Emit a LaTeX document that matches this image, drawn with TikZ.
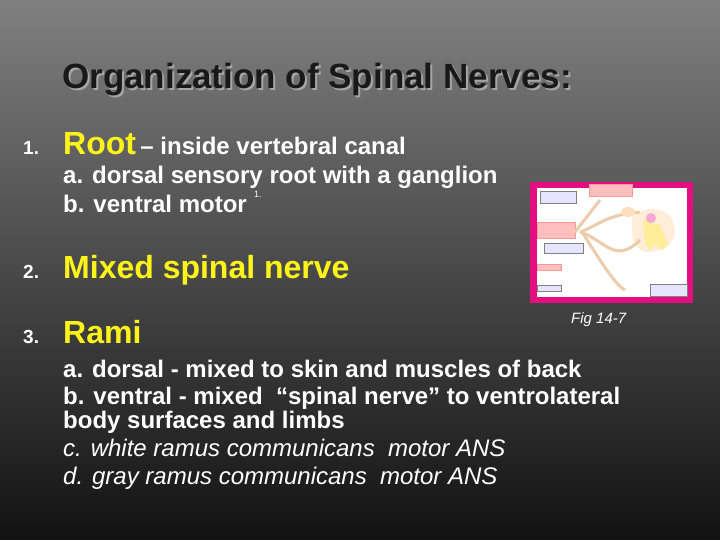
\documentclass[tikz,border=0pt]{standalone}
\usepackage{fontspec}
\setmainfont{Liberation Sans}
\begin{document}
\begin{tikzpicture}[x=1pt,y=-1pt,
  txt/.style={anchor=base west,inner sep=0pt,text=white,font=\bfseries\fontsize{24}{28}\selectfont},
  head/.style={anchor=base west,inner sep=0pt,text=yellow!90!white,font=\bfseries\fontsize{32}{36}\selectfont},
  num/.style={anchor=base west,inner sep=0pt,text=white,font=\bfseries\fontsize{19}{22}\selectfont},
  itl/.style={anchor=base west,inner sep=0pt,text=white,font=\itshape\fontsize{24}{28}\selectfont},
  pinkbox/.style={fill=red!25,draw=red!40,line width=0.3pt},
  lavbox/.style={fill=blue!10,draw=gray,line width=0.3pt},
  nerve/.style={draw=orange!30!brown!40,line width=3pt}]
\useasboundingbox (0,0) rectangle (720,540);
\shade[top color=black!50, bottom color=black!93] (0,0) rectangle (720,540);
% title
\node[anchor=base west,inner sep=0pt,text=gray!70,font=\bfseries\fontsize{35}{40}\selectfont] (tshadow) at (64,91) {Organization of Spinal Nerves:};
\node[anchor=base west,inner sep=0pt,text=black!90,font=\bfseries\fontsize{35}{40}\selectfont] (title) at (62,89) {Organization of Spinal Nerves:};
% item 1
\node[num] (n1) at (23,155) {1.};
\node[head] (root) at (63,155) {Root};
\node[txt,anchor=base west] (rootd) at (root.base east) {\,– inside vertebral canal};
\node[txt] (ra) at (63,184) {a. dorsal sensory root with a ganglion};
\node[txt] (rb) at (63,212) {b. ventral motor};
\node[anchor=base west,inner sep=0pt,text=white,font=\fontsize{9}{10}\selectfont] (one) at (254,197) {1.};
% item 2
\node[num] (n2) at (23,278) {2.};
\node[head] (mixed) at (63,278) {Mixed spinal nerve};
% item 3
\node[num] (n3) at (23,343) {3.};
\node[head] (rami) at (63,343) {Rami};
\node[txt] (r3a) at (63,377) {a. dorsal - mixed to skin and muscles of back};
\node[txt] (r3b) at (63,404) {b. ventral - mixed\ \ “spinal nerve” to ventrolateral};
\node[txt] (r3b2) at (63,428) {body surfaces and limbs};
\node[itl] (r3c) at (63,456) {c. white ramus communicans\ \ motor ANS};
\node[itl] (r3d) at (63,484) {d. gray ramus communicans\ \ motor ANS};
% figure
\fill[magenta!80!purple] (530,182) rectangle (693,303);
\fill[white] (537,188) rectangle (687,297);
\node[itl,font=\itshape\fontsize{15}{18}\selectfont] (fig) at (571,323) {Fig 14-7};
% figure sketch
\draw[lavbox] (540,191) rectangle (576,203);
\draw[pinkbox] (589,184) rectangle (632,196);
\draw[pinkbox] (537,222) rectangle (575,238);
\draw[lavbox] (544,243) rectangle (583,253);
\draw[pinkbox] (537,264) rectangle (561,270);
\draw[lavbox] (537,285) rectangle (561,291);
\draw[lavbox] (650,284) rectangle (687,296);
\fill[orange!15] (632,216) .. controls (645,205) and (673,205) .. (675,230) .. controls (675,250) and (650,255) .. (640,250) .. controls (632,240) .. (632,216);
\fill[orange!35!yellow!40] (643,220) -- (660,225) -- (668,245) -- (662,250) -- (655,244) -- (650,250) -- (645,244) -- cycle;
\fill[magenta!35] (651,218) circle (5);
\draw[nerve] (580,232) .. controls (600,225) and (605,215) .. (640,212);
\draw[nerve] (580,232) .. controls (605,240) and (615,265) .. (640,240);
\draw[nerve] (582,232) .. controls (600,260) and (615,285) .. (625,290);
\draw[nerve] (575,232) -- (600,200);
\fill[orange!25] (628,212) ellipse (7 and 5);
\end{tikzpicture}
\end{document}
